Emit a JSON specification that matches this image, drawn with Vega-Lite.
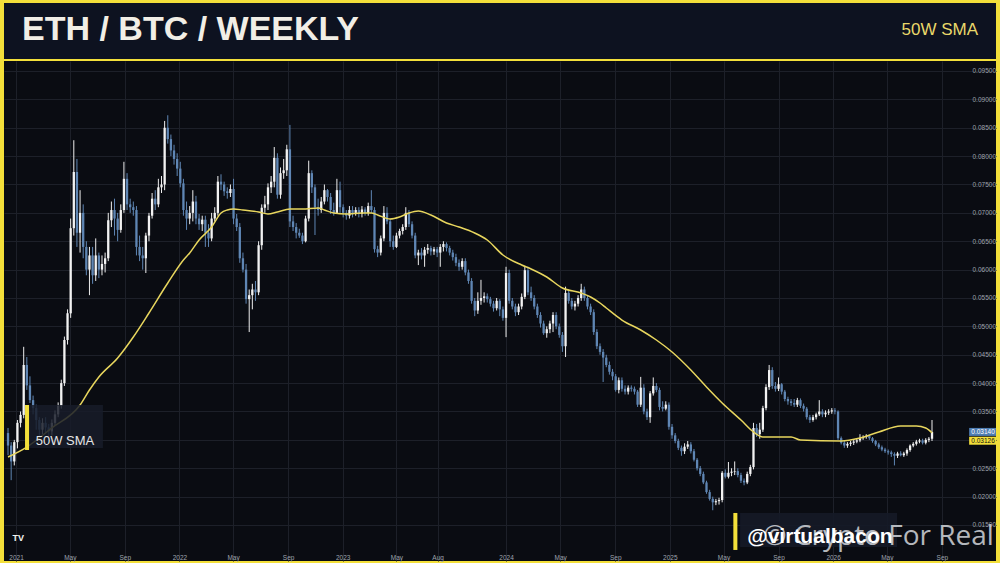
{
  "$schema": "https://vega.github.io/schema/vega-lite/v6.json",
  "description": "ETH/BTC weekly candles with a 50 week SMA",
  "background": "#f3df3a",
  "padding": {"left": 4, "top": 3, "right": 4, "bottom": 2},
  "spacing": 2,
  "bounds": "flush",
  "config": {"view": {"stroke": null}},
  "datasets": {
    "candles": [
      {"d":"2020-12-14","o":0.0312,"h":0.0321,"l":0.0273,"c":0.029},
      {"d":"2020-12-21","o":0.029,"h":0.0296,"l":0.0229,"c":0.0262},
      {"d":"2020-12-28","o":0.0262,"h":0.03,"l":0.0255,"c":0.0296},
      {"d":"2021-01-04","o":0.0296,"h":0.0335,"l":0.0285,"c":0.033},
      {"d":"2021-01-11","o":0.033,"h":0.035,"l":0.0322,"c":0.0344},
      {"d":"2021-01-18","o":0.0344,"h":0.0464,"l":0.0338,"c":0.0432},
      {"d":"2021-01-25","o":0.0432,"h":0.0446,"l":0.0388,"c":0.0396},
      {"d":"2021-02-01","o":0.0396,"h":0.0412,"l":0.0365,"c":0.037},
      {"d":"2021-02-08","o":0.037,"h":0.0378,"l":0.0345,"c":0.0356},
      {"d":"2021-02-15","o":0.0356,"h":0.0362,"l":0.0318,"c":0.0335},
      {"d":"2021-02-22","o":0.0335,"h":0.034,"l":0.0305,"c":0.0318},
      {"d":"2021-03-01","o":0.0318,"h":0.0338,"l":0.031,"c":0.033},
      {"d":"2021-03-08","o":0.033,"h":0.034,"l":0.0312,"c":0.0322},
      {"d":"2021-03-15","o":0.0322,"h":0.0328,"l":0.03,"c":0.0315},
      {"d":"2021-03-22","o":0.0315,"h":0.0336,"l":0.0308,"c":0.033},
      {"d":"2021-03-29","o":0.033,"h":0.0352,"l":0.0325,"c":0.0345},
      {"d":"2021-04-05","o":0.0345,"h":0.0366,"l":0.034,"c":0.036},
      {"d":"2021-04-12","o":0.036,"h":0.0406,"l":0.0355,"c":0.04},
      {"d":"2021-04-19","o":0.04,"h":0.0482,"l":0.0395,"c":0.0476},
      {"d":"2021-04-26","o":0.0476,"h":0.053,"l":0.0468,"c":0.0523},
      {"d":"2021-05-03","o":0.0523,"h":0.069,"l":0.0515,"c":0.0673},
      {"d":"2021-05-10","o":0.0673,"h":0.0828,"l":0.066,"c":0.0772},
      {"d":"2021-05-17","o":0.0772,"h":0.0795,"l":0.064,"c":0.0665},
      {"d":"2021-05-24","o":0.0665,"h":0.074,"l":0.063,"c":0.07},
      {"d":"2021-05-31","o":0.07,"h":0.0715,"l":0.062,"c":0.064},
      {"d":"2021-06-07","o":0.064,"h":0.065,"l":0.059,"c":0.06},
      {"d":"2021-06-14","o":0.06,"h":0.064,"l":0.0555,"c":0.0625},
      {"d":"2021-06-21","o":0.0625,"h":0.064,"l":0.0575,"c":0.059},
      {"d":"2021-06-28","o":0.059,"h":0.0655,"l":0.058,"c":0.0625},
      {"d":"2021-07-05","o":0.0625,"h":0.063,"l":0.0585,"c":0.06},
      {"d":"2021-07-12","o":0.06,"h":0.0625,"l":0.059,"c":0.061},
      {"d":"2021-07-19","o":0.061,"h":0.063,"l":0.0595,"c":0.062},
      {"d":"2021-07-26","o":0.062,"h":0.07,"l":0.0615,"c":0.0687},
      {"d":"2021-08-02","o":0.0687,"h":0.072,"l":0.0675,"c":0.0705},
      {"d":"2021-08-09","o":0.0705,"h":0.0725,"l":0.066,"c":0.069},
      {"d":"2021-08-16","o":0.069,"h":0.07,"l":0.065,"c":0.067},
      {"d":"2021-08-23","o":0.067,"h":0.0715,"l":0.0665,"c":0.0705},
      {"d":"2021-08-30","o":0.0705,"h":0.079,"l":0.07,"c":0.076},
      {"d":"2021-09-06","o":0.076,"h":0.077,"l":0.0705,"c":0.0715},
      {"d":"2021-09-13","o":0.0715,"h":0.0725,"l":0.07,"c":0.071},
      {"d":"2021-09-20","o":0.071,"h":0.072,"l":0.0695,"c":0.0705},
      {"d":"2021-09-27","o":0.0705,"h":0.0712,"l":0.0625,"c":0.064},
      {"d":"2021-10-04","o":0.064,"h":0.066,"l":0.0615,"c":0.0625},
      {"d":"2021-10-11","o":0.0625,"h":0.064,"l":0.06,"c":0.062},
      {"d":"2021-10-18","o":0.062,"h":0.0665,"l":0.0594,"c":0.066},
      {"d":"2021-10-25","o":0.066,"h":0.07,"l":0.065,"c":0.0695},
      {"d":"2021-11-01","o":0.0695,"h":0.0735,"l":0.069,"c":0.0725},
      {"d":"2021-11-08","o":0.0725,"h":0.074,"l":0.0705,"c":0.0715},
      {"d":"2021-11-15","o":0.0715,"h":0.076,"l":0.071,"c":0.0745},
      {"d":"2021-11-22","o":0.0745,"h":0.0765,"l":0.0735,"c":0.075},
      {"d":"2021-11-29","o":0.075,"h":0.0862,"l":0.074,"c":0.085},
      {"d":"2021-12-06","o":0.085,"h":0.0872,"l":0.0822,"c":0.083},
      {"d":"2021-12-13","o":0.083,"h":0.0838,"l":0.08,"c":0.081},
      {"d":"2021-12-20","o":0.081,"h":0.082,"l":0.0785,"c":0.0795},
      {"d":"2021-12-27","o":0.0795,"h":0.0805,"l":0.0765,"c":0.0778},
      {"d":"2022-01-03","o":0.0778,"h":0.079,"l":0.0745,"c":0.0752},
      {"d":"2022-01-10","o":0.0752,"h":0.076,"l":0.0695,"c":0.0705},
      {"d":"2022-01-17","o":0.0705,"h":0.072,"l":0.067,"c":0.069},
      {"d":"2022-01-24","o":0.069,"h":0.0712,"l":0.068,"c":0.07},
      {"d":"2022-01-31","o":0.07,"h":0.074,"l":0.0685,"c":0.072},
      {"d":"2022-02-07","o":0.072,"h":0.073,"l":0.068,"c":0.069},
      {"d":"2022-02-14","o":0.069,"h":0.0698,"l":0.067,"c":0.068},
      {"d":"2022-02-21","o":0.068,"h":0.0695,"l":0.0668,"c":0.0688},
      {"d":"2022-02-28","o":0.0688,"h":0.0695,"l":0.064,"c":0.0665},
      {"d":"2022-03-07","o":0.0665,"h":0.068,"l":0.064,"c":0.0655},
      {"d":"2022-03-14","o":0.0655,"h":0.07,"l":0.065,"c":0.069},
      {"d":"2022-03-21","o":0.069,"h":0.071,"l":0.0685,"c":0.07},
      {"d":"2022-03-28","o":0.07,"h":0.0765,"l":0.0695,"c":0.0755},
      {"d":"2022-04-04","o":0.0755,"h":0.0768,"l":0.074,"c":0.075},
      {"d":"2022-04-11","o":0.075,"h":0.0755,"l":0.073,"c":0.0738},
      {"d":"2022-04-18","o":0.0738,"h":0.0745,"l":0.0725,"c":0.0735},
      {"d":"2022-04-25","o":0.0735,"h":0.075,"l":0.0728,"c":0.0742},
      {"d":"2022-05-02","o":0.0742,"h":0.076,"l":0.068,"c":0.069},
      {"d":"2022-05-09","o":0.069,"h":0.0698,"l":0.0668,"c":0.0675},
      {"d":"2022-05-16","o":0.0675,"h":0.0682,"l":0.0612,"c":0.062},
      {"d":"2022-05-23","o":0.062,"h":0.063,"l":0.0595,"c":0.06},
      {"d":"2022-05-30","o":0.06,"h":0.061,"l":0.054,"c":0.0548},
      {"d":"2022-06-06","o":0.0548,"h":0.0565,"l":0.049,"c":0.0555},
      {"d":"2022-06-13","o":0.0555,"h":0.0575,"l":0.053,"c":0.0565},
      {"d":"2022-06-20","o":0.0565,"h":0.058,"l":0.0545,"c":0.056},
      {"d":"2022-06-27","o":0.056,"h":0.065,"l":0.0555,"c":0.0643},
      {"d":"2022-07-04","o":0.0643,"h":0.0715,"l":0.0635,"c":0.0709},
      {"d":"2022-07-11","o":0.0709,"h":0.073,"l":0.07,"c":0.0715},
      {"d":"2022-07-18","o":0.0715,"h":0.0752,"l":0.0705,"c":0.0745},
      {"d":"2022-07-25","o":0.0745,"h":0.0765,"l":0.0735,"c":0.0755},
      {"d":"2022-08-01","o":0.0755,"h":0.0816,"l":0.0745,"c":0.0797},
      {"d":"2022-08-08","o":0.0797,"h":0.0805,"l":0.0725,"c":0.0732},
      {"d":"2022-08-15","o":0.0732,"h":0.078,"l":0.0725,"c":0.077},
      {"d":"2022-08-22","o":0.077,"h":0.0795,"l":0.076,"c":0.0775},
      {"d":"2022-08-29","o":0.0775,"h":0.082,"l":0.0765,"c":0.0812},
      {"d":"2022-09-05","o":0.0812,"h":0.0855,"l":0.0675,"c":0.0685},
      {"d":"2022-09-12","o":0.0685,"h":0.0695,"l":0.0668,"c":0.0675},
      {"d":"2022-09-19","o":0.0675,"h":0.0682,"l":0.0655,"c":0.0665},
      {"d":"2022-09-26","o":0.0665,"h":0.0672,"l":0.0656,"c":0.066},
      {"d":"2022-10-03","o":0.066,"h":0.0665,"l":0.0645,"c":0.065},
      {"d":"2022-10-10","o":0.065,"h":0.0695,"l":0.0648,"c":0.069},
      {"d":"2022-10-17","o":0.069,"h":0.0792,"l":0.0685,"c":0.077},
      {"d":"2022-10-24","o":0.077,"h":0.0775,"l":0.0735,"c":0.0745},
      {"d":"2022-10-31","o":0.0745,"h":0.075,"l":0.0661,"c":0.071},
      {"d":"2022-11-07","o":0.071,"h":0.0725,"l":0.0695,"c":0.0705},
      {"d":"2022-11-14","o":0.0705,"h":0.0728,"l":0.07,"c":0.072},
      {"d":"2022-11-21","o":0.072,"h":0.075,"l":0.0715,"c":0.074},
      {"d":"2022-11-28","o":0.074,"h":0.0742,"l":0.072,"c":0.0728},
      {"d":"2022-12-05","o":0.0728,"h":0.0735,"l":0.0698,"c":0.0705},
      {"d":"2022-12-12","o":0.0705,"h":0.0718,"l":0.0695,"c":0.07},
      {"d":"2022-12-19","o":0.07,"h":0.076,"l":0.0698,"c":0.074},
      {"d":"2022-12-26","o":0.074,"h":0.0755,"l":0.07,"c":0.071},
      {"d":"2023-01-02","o":0.071,"h":0.0715,"l":0.0692,"c":0.07},
      {"d":"2023-01-09","o":0.07,"h":0.0705,"l":0.0688,"c":0.0695},
      {"d":"2023-01-16","o":0.0695,"h":0.0712,"l":0.069,"c":0.0705},
      {"d":"2023-01-23","o":0.0705,"h":0.0712,"l":0.0692,"c":0.07},
      {"d":"2023-01-30","o":0.07,"h":0.071,"l":0.0695,"c":0.0705},
      {"d":"2023-02-06","o":0.0705,"h":0.071,"l":0.0692,"c":0.0698},
      {"d":"2023-02-13","o":0.0698,"h":0.0712,"l":0.0692,"c":0.0706},
      {"d":"2023-02-20","o":0.0706,"h":0.071,"l":0.0695,"c":0.07},
      {"d":"2023-02-27","o":0.07,"h":0.0718,"l":0.0695,"c":0.0712},
      {"d":"2023-03-06","o":0.0712,"h":0.074,"l":0.07,"c":0.0705},
      {"d":"2023-03-13","o":0.0705,"h":0.071,"l":0.063,"c":0.0636},
      {"d":"2023-03-20","o":0.0636,"h":0.0642,"l":0.0622,"c":0.063},
      {"d":"2023-03-27","o":0.063,"h":0.066,"l":0.0625,"c":0.0655},
      {"d":"2023-04-03","o":0.0655,"h":0.0712,"l":0.065,"c":0.07},
      {"d":"2023-04-10","o":0.07,"h":0.071,"l":0.068,"c":0.0685},
      {"d":"2023-04-17","o":0.0685,"h":0.069,"l":0.064,"c":0.065},
      {"d":"2023-04-24","o":0.065,"h":0.066,"l":0.0635,"c":0.064},
      {"d":"2023-05-01","o":0.064,"h":0.0665,"l":0.0638,"c":0.066},
      {"d":"2023-05-08","o":0.066,"h":0.0672,"l":0.0655,"c":0.0668},
      {"d":"2023-05-15","o":0.0668,"h":0.068,"l":0.0662,"c":0.0675},
      {"d":"2023-05-22","o":0.0675,"h":0.071,"l":0.067,"c":0.07},
      {"d":"2023-05-29","o":0.07,"h":0.0705,"l":0.0675,"c":0.068},
      {"d":"2023-06-05","o":0.068,"h":0.0685,"l":0.0655,"c":0.066},
      {"d":"2023-06-12","o":0.066,"h":0.0665,"l":0.062,"c":0.0625},
      {"d":"2023-06-19","o":0.0625,"h":0.0635,"l":0.0608,"c":0.063},
      {"d":"2023-06-26","o":0.063,"h":0.0638,"l":0.0618,"c":0.0625},
      {"d":"2023-07-03","o":0.0625,"h":0.064,"l":0.0605,"c":0.0635},
      {"d":"2023-07-10","o":0.0635,"h":0.0645,"l":0.0628,"c":0.0638},
      {"d":"2023-07-17","o":0.0638,"h":0.0642,"l":0.0625,"c":0.0632},
      {"d":"2023-07-24","o":0.0632,"h":0.064,"l":0.0626,"c":0.0636},
      {"d":"2023-07-31","o":0.0636,"h":0.064,"l":0.0622,"c":0.063},
      {"d":"2023-08-07","o":0.063,"h":0.0645,"l":0.0605,"c":0.064},
      {"d":"2023-08-14","o":0.064,"h":0.065,"l":0.0632,"c":0.0645},
      {"d":"2023-08-21","o":0.0645,"h":0.0648,"l":0.0632,"c":0.0638},
      {"d":"2023-08-28","o":0.0638,"h":0.0642,"l":0.0625,"c":0.063},
      {"d":"2023-09-04","o":0.063,"h":0.0635,"l":0.0616,"c":0.0622},
      {"d":"2023-09-11","o":0.0622,"h":0.0628,"l":0.0606,"c":0.0612},
      {"d":"2023-09-18","o":0.0612,"h":0.0618,"l":0.0598,"c":0.0605},
      {"d":"2023-09-25","o":0.0605,"h":0.062,"l":0.06,"c":0.0615},
      {"d":"2023-10-02","o":0.0615,"h":0.062,"l":0.059,"c":0.0595},
      {"d":"2023-10-09","o":0.0595,"h":0.06,"l":0.0575,"c":0.058},
      {"d":"2023-10-16","o":0.058,"h":0.0585,"l":0.054,"c":0.0545},
      {"d":"2023-10-23","o":0.0545,"h":0.055,"l":0.0518,"c":0.0528},
      {"d":"2023-10-30","o":0.0528,"h":0.056,"l":0.0522,"c":0.0545},
      {"d":"2023-11-06","o":0.0545,"h":0.0582,"l":0.0538,"c":0.055},
      {"d":"2023-11-13","o":0.055,"h":0.056,"l":0.0542,"c":0.0553},
      {"d":"2023-11-20","o":0.0553,"h":0.0558,"l":0.0542,"c":0.0548},
      {"d":"2023-11-27","o":0.0548,"h":0.0552,"l":0.0535,"c":0.054},
      {"d":"2023-12-04","o":0.054,"h":0.0545,"l":0.0526,"c":0.0532},
      {"d":"2023-12-11","o":0.0532,"h":0.055,"l":0.0528,"c":0.0545},
      {"d":"2023-12-18","o":0.0545,"h":0.0548,"l":0.0518,"c":0.053},
      {"d":"2023-12-25","o":0.053,"h":0.0535,"l":0.051,"c":0.0515},
      {"d":"2024-01-01","o":0.0515,"h":0.0605,"l":0.0481,"c":0.0594},
      {"d":"2024-01-08","o":0.0594,"h":0.06,"l":0.054,"c":0.0545},
      {"d":"2024-01-15","o":0.0545,"h":0.055,"l":0.053,"c":0.0535},
      {"d":"2024-01-22","o":0.0535,"h":0.054,"l":0.0518,"c":0.0525},
      {"d":"2024-01-29","o":0.0525,"h":0.054,"l":0.052,"c":0.0535},
      {"d":"2024-02-05","o":0.0535,"h":0.0558,"l":0.053,"c":0.0552},
      {"d":"2024-02-12","o":0.0552,"h":0.0605,"l":0.0548,"c":0.0599},
      {"d":"2024-02-19","o":0.0599,"h":0.0605,"l":0.0555,"c":0.056},
      {"d":"2024-02-26","o":0.056,"h":0.057,"l":0.0545,"c":0.055},
      {"d":"2024-03-04","o":0.055,"h":0.0555,"l":0.053,"c":0.0535},
      {"d":"2024-03-11","o":0.0535,"h":0.054,"l":0.0515,"c":0.052},
      {"d":"2024-03-18","o":0.052,"h":0.0525,"l":0.0498,"c":0.0505},
      {"d":"2024-03-25","o":0.0505,"h":0.051,"l":0.0485,"c":0.0488},
      {"d":"2024-04-01","o":0.0488,"h":0.05,"l":0.048,"c":0.0495},
      {"d":"2024-04-08","o":0.0495,"h":0.051,"l":0.0488,"c":0.0505},
      {"d":"2024-04-15","o":0.0505,"h":0.0525,"l":0.049,"c":0.052},
      {"d":"2024-04-22","o":0.052,"h":0.0525,"l":0.0495,"c":0.05},
      {"d":"2024-04-29","o":0.05,"h":0.0505,"l":0.048,"c":0.0485},
      {"d":"2024-05-06","o":0.0485,"h":0.049,"l":0.0455,"c":0.0465},
      {"d":"2024-05-13","o":0.0465,"h":0.057,"l":0.0446,"c":0.0559},
      {"d":"2024-05-20","o":0.0559,"h":0.0565,"l":0.054,"c":0.0545},
      {"d":"2024-05-27","o":0.0545,"h":0.055,"l":0.053,"c":0.0535},
      {"d":"2024-06-03","o":0.0535,"h":0.0545,"l":0.0528,"c":0.054},
      {"d":"2024-06-10","o":0.054,"h":0.0555,"l":0.0535,"c":0.055},
      {"d":"2024-06-17","o":0.055,"h":0.0575,"l":0.0545,"c":0.0565},
      {"d":"2024-06-24","o":0.0565,"h":0.057,"l":0.0545,"c":0.055},
      {"d":"2024-07-01","o":0.055,"h":0.0555,"l":0.053,"c":0.0535},
      {"d":"2024-07-08","o":0.0535,"h":0.054,"l":0.052,"c":0.0525},
      {"d":"2024-07-15","o":0.0525,"h":0.053,"l":0.0485,"c":0.049},
      {"d":"2024-07-22","o":0.049,"h":0.0495,"l":0.046,"c":0.0465},
      {"d":"2024-07-29","o":0.0465,"h":0.047,"l":0.045,"c":0.0455},
      {"d":"2024-08-05","o":0.0455,"h":0.046,"l":0.0402,"c":0.0445},
      {"d":"2024-08-12","o":0.0445,"h":0.045,"l":0.0428,"c":0.0432},
      {"d":"2024-08-19","o":0.0432,"h":0.0438,"l":0.0415,"c":0.042},
      {"d":"2024-08-26","o":0.042,"h":0.0425,"l":0.0405,"c":0.0412},
      {"d":"2024-09-02","o":0.0412,"h":0.0416,"l":0.0385,"c":0.0388},
      {"d":"2024-09-09","o":0.0388,"h":0.041,"l":0.0382,"c":0.0405},
      {"d":"2024-09-16","o":0.0405,"h":0.041,"l":0.0385,"c":0.039},
      {"d":"2024-09-23","o":0.039,"h":0.0396,"l":0.038,"c":0.0385},
      {"d":"2024-09-30","o":0.0385,"h":0.0396,"l":0.038,"c":0.0392},
      {"d":"2024-10-07","o":0.0392,"h":0.0396,"l":0.0385,"c":0.039},
      {"d":"2024-10-14","o":0.039,"h":0.0394,"l":0.038,"c":0.0385},
      {"d":"2024-10-21","o":0.0385,"h":0.0388,"l":0.0358,"c":0.0362},
      {"d":"2024-10-28","o":0.0362,"h":0.0411,"l":0.0358,"c":0.0392},
      {"d":"2024-11-04","o":0.0392,"h":0.0398,"l":0.0345,"c":0.035},
      {"d":"2024-11-11","o":0.035,"h":0.0355,"l":0.0335,"c":0.034},
      {"d":"2024-11-18","o":0.034,"h":0.0386,"l":0.033,"c":0.0382},
      {"d":"2024-11-25","o":0.0382,"h":0.041,"l":0.0378,"c":0.0395},
      {"d":"2024-12-02","o":0.0395,"h":0.04,"l":0.0384,"c":0.0388},
      {"d":"2024-12-09","o":0.0388,"h":0.0392,"l":0.0352,"c":0.0358},
      {"d":"2024-12-16","o":0.0358,"h":0.0368,"l":0.035,"c":0.0355},
      {"d":"2024-12-23","o":0.0355,"h":0.0368,"l":0.0352,"c":0.0362},
      {"d":"2024-12-30","o":0.0362,"h":0.0366,"l":0.0318,"c":0.0323},
      {"d":"2025-01-06","o":0.0323,"h":0.0328,"l":0.0302,"c":0.0308},
      {"d":"2025-01-13","o":0.0308,"h":0.0312,"l":0.0294,"c":0.0298},
      {"d":"2025-01-20","o":0.0298,"h":0.0302,"l":0.0282,"c":0.0286},
      {"d":"2025-01-27","o":0.0286,"h":0.029,"l":0.0272,"c":0.028},
      {"d":"2025-02-03","o":0.028,"h":0.0294,"l":0.0275,"c":0.0288},
      {"d":"2025-02-10","o":0.0288,"h":0.0298,"l":0.0284,"c":0.0292},
      {"d":"2025-02-17","o":0.0292,"h":0.0296,"l":0.0276,"c":0.028},
      {"d":"2025-02-24","o":0.028,"h":0.0284,"l":0.0262,"c":0.0265},
      {"d":"2025-03-03","o":0.0265,"h":0.0268,"l":0.0246,"c":0.025},
      {"d":"2025-03-10","o":0.025,"h":0.0254,"l":0.0236,"c":0.024},
      {"d":"2025-03-17","o":0.024,"h":0.0244,"l":0.0222,"c":0.0225},
      {"d":"2025-03-24","o":0.0225,"h":0.0228,"l":0.0205,"c":0.0208},
      {"d":"2025-03-31","o":0.0208,"h":0.0212,"l":0.0193,"c":0.0196},
      {"d":"2025-04-07","o":0.0196,"h":0.02,"l":0.0176,"c":0.019},
      {"d":"2025-04-14","o":0.019,"h":0.0196,"l":0.0185,"c":0.0192},
      {"d":"2025-04-21","o":0.0192,"h":0.0198,"l":0.0186,"c":0.0194},
      {"d":"2025-04-28","o":0.0194,"h":0.0245,"l":0.019,"c":0.0242},
      {"d":"2025-05-05","o":0.0242,"h":0.0248,"l":0.0232,"c":0.0235},
      {"d":"2025-05-12","o":0.0235,"h":0.0261,"l":0.0232,"c":0.0242},
      {"d":"2025-05-19","o":0.0242,"h":0.025,"l":0.0236,"c":0.0244},
      {"d":"2025-05-26","o":0.0244,"h":0.0262,"l":0.0238,"c":0.0245},
      {"d":"2025-06-02","o":0.0245,"h":0.025,"l":0.0234,"c":0.0238},
      {"d":"2025-06-09","o":0.0238,"h":0.0242,"l":0.0224,"c":0.0228},
      {"d":"2025-06-16","o":0.0228,"h":0.0232,"l":0.022,"c":0.0225},
      {"d":"2025-06-23","o":0.0225,"h":0.0244,"l":0.0222,"c":0.024},
      {"d":"2025-06-30","o":0.024,"h":0.0256,"l":0.0236,"c":0.0252},
      {"d":"2025-07-07","o":0.0252,"h":0.033,"l":0.0248,"c":0.0321},
      {"d":"2025-07-14","o":0.0321,"h":0.0328,"l":0.0305,"c":0.031},
      {"d":"2025-07-21","o":0.031,"h":0.033,"l":0.0302,"c":0.0318},
      {"d":"2025-07-28","o":0.0318,"h":0.036,"l":0.0314,"c":0.0356},
      {"d":"2025-08-04","o":0.0356,"h":0.0398,"l":0.0352,"c":0.0393},
      {"d":"2025-08-11","o":0.0393,"h":0.0432,"l":0.0388,"c":0.0423},
      {"d":"2025-08-18","o":0.0423,"h":0.0428,"l":0.039,"c":0.0395},
      {"d":"2025-08-25","o":0.0395,"h":0.0402,"l":0.0385,"c":0.039},
      {"d":"2025-09-01","o":0.039,"h":0.041,"l":0.0386,"c":0.0398},
      {"d":"2025-09-08","o":0.0398,"h":0.04,"l":0.038,"c":0.0385},
      {"d":"2025-09-15","o":0.0385,"h":0.0388,"l":0.0368,"c":0.0372},
      {"d":"2025-09-22","o":0.0372,"h":0.0376,"l":0.0362,"c":0.0368},
      {"d":"2025-09-29","o":0.0368,"h":0.0372,"l":0.036,"c":0.0365},
      {"d":"2025-10-06","o":0.0365,"h":0.0372,"l":0.0358,"c":0.0362},
      {"d":"2025-10-13","o":0.0362,"h":0.0374,"l":0.0358,"c":0.037},
      {"d":"2025-10-20","o":0.037,"h":0.0373,"l":0.0356,"c":0.036},
      {"d":"2025-10-27","o":0.036,"h":0.0364,"l":0.035,"c":0.0355},
      {"d":"2025-11-03","o":0.0355,"h":0.0358,"l":0.0336,"c":0.034},
      {"d":"2025-11-10","o":0.034,"h":0.0344,"l":0.033,"c":0.0335},
      {"d":"2025-11-17","o":0.0335,"h":0.0344,"l":0.0332,"c":0.034},
      {"d":"2025-11-24","o":0.034,"h":0.0348,"l":0.0336,"c":0.0345},
      {"d":"2025-12-01","o":0.0345,"h":0.037,"l":0.0342,"c":0.035},
      {"d":"2025-12-08","o":0.035,"h":0.0354,"l":0.034,"c":0.0345},
      {"d":"2025-12-15","o":0.0345,"h":0.0352,"l":0.034,"c":0.0348},
      {"d":"2025-12-22","o":0.0348,"h":0.0354,"l":0.0344,"c":0.035},
      {"d":"2025-12-29","o":0.035,"h":0.0356,"l":0.0346,"c":0.0352},
      {"d":"2026-01-05","o":0.0352,"h":0.0356,"l":0.0345,"c":0.035},
      {"d":"2026-01-12","o":0.035,"h":0.0352,"l":0.03,"c":0.0303},
      {"d":"2026-01-19","o":0.0303,"h":0.0306,"l":0.0292,"c":0.0295},
      {"d":"2026-01-26","o":0.0295,"h":0.0298,"l":0.0286,"c":0.029},
      {"d":"2026-02-02","o":0.029,"h":0.0296,"l":0.0286,"c":0.0293},
      {"d":"2026-02-09","o":0.0293,"h":0.0298,"l":0.0289,"c":0.0295},
      {"d":"2026-02-16","o":0.0295,"h":0.03,"l":0.0291,"c":0.0297},
      {"d":"2026-02-23","o":0.0297,"h":0.0302,"l":0.0294,"c":0.0299},
      {"d":"2026-03-02","o":0.0299,"h":0.031,"l":0.0296,"c":0.0303},
      {"d":"2026-03-09","o":0.0303,"h":0.0308,"l":0.03,"c":0.0305},
      {"d":"2026-03-16","o":0.0305,"h":0.031,"l":0.0302,"c":0.0307},
      {"d":"2026-03-23","o":0.0307,"h":0.0309,"l":0.03,"c":0.0303},
      {"d":"2026-03-30","o":0.0303,"h":0.0305,"l":0.0295,"c":0.0298},
      {"d":"2026-04-06","o":0.0298,"h":0.03,"l":0.0289,"c":0.0292},
      {"d":"2026-04-13","o":0.0292,"h":0.0295,"l":0.0284,"c":0.0287},
      {"d":"2026-04-20","o":0.0287,"h":0.029,"l":0.028,"c":0.0283},
      {"d":"2026-04-27","o":0.0283,"h":0.0286,"l":0.0277,"c":0.028},
      {"d":"2026-05-04","o":0.028,"h":0.0283,"l":0.0274,"c":0.0278},
      {"d":"2026-05-11","o":0.0278,"h":0.0281,"l":0.027,"c":0.0275},
      {"d":"2026-05-18","o":0.0275,"h":0.0278,"l":0.0255,"c":0.0272},
      {"d":"2026-05-25","o":0.0272,"h":0.0279,"l":0.0268,"c":0.0276},
      {"d":"2026-06-01","o":0.0276,"h":0.028,"l":0.0271,"c":0.0273},
      {"d":"2026-06-08","o":0.0273,"h":0.0279,"l":0.027,"c":0.0276},
      {"d":"2026-06-15","o":0.0276,"h":0.0285,"l":0.0272,"c":0.0282},
      {"d":"2026-06-22","o":0.0282,"h":0.0292,"l":0.0279,"c":0.029},
      {"d":"2026-06-29","o":0.029,"h":0.0296,"l":0.0287,"c":0.0293},
      {"d":"2026-07-06","o":0.0293,"h":0.03,"l":0.029,"c":0.0297},
      {"d":"2026-07-13","o":0.0297,"h":0.0302,"l":0.0294,"c":0.0299},
      {"d":"2026-07-20","o":0.0299,"h":0.0302,"l":0.0292,"c":0.0295},
      {"d":"2026-07-27","o":0.0295,"h":0.0303,"l":0.0292,"c":0.03},
      {"d":"2026-08-03","o":0.03,"h":0.0305,"l":0.0296,"c":0.0302},
      {"d":"2026-08-10","o":0.0302,"h":0.0335,"l":0.0298,"c":0.0314}
    ],
    "sma": [
      {"d":"2020-12-14","s":0.02698},
      {"d":"2021-01-25","s":0.02874},
      {"d":"2021-03-22","s":0.0321},
      {"d":"2021-05-24","s":0.03615},
      {"d":"2021-06-14","s":0.03879},
      {"d":"2021-07-05","s":0.04108},
      {"d":"2021-08-16","s":0.04443},
      {"d":"2021-09-20","s":0.04813},
      {"d":"2021-10-25","s":0.05236},
      {"d":"2021-12-06","s":0.05764},
      {"d":"2022-01-10","s":0.0617},
      {"d":"2022-01-24","s":0.06293},
      {"d":"2022-02-14","s":0.06522},
      {"d":"2022-03-14","s":0.06751},
      {"d":"2022-04-04","s":0.06998},
      {"d":"2022-04-18","s":0.07051},
      {"d":"2022-05-02","s":0.07068},
      {"d":"2022-05-23","s":0.07051},
      {"d":"2022-06-27","s":0.07015},
      {"d":"2022-07-18","s":0.0698},
      {"d":"2022-08-08","s":0.07015},
      {"d":"2022-09-05","s":0.07068},
      {"d":"2022-10-03","s":0.07068},
      {"d":"2022-11-07","s":0.07086},
      {"d":"2022-11-21","s":0.07051},
      {"d":"2022-12-12","s":0.06998},
      {"d":"2023-01-09","s":0.0698},
      {"d":"2023-02-13","s":0.06998},
      {"d":"2023-03-06","s":0.06998},
      {"d":"2023-03-20","s":0.06963},
      {"d":"2023-04-17","s":0.06892},
      {"d":"2023-05-08","s":0.06927},
      {"d":"2023-05-29","s":0.06998},
      {"d":"2023-06-19","s":0.07033},
      {"d":"2023-07-17","s":0.06963},
      {"d":"2023-08-21","s":0.06822},
      {"d":"2023-09-18","s":0.06751},
      {"d":"2023-10-23","s":0.06645},
      {"d":"2023-11-20","s":0.06522},
      {"d":"2023-12-25","s":0.06258},
      {"d":"2024-02-05","s":0.06081},
      {"d":"2024-02-26","s":0.06011},
      {"d":"2024-04-01","s":0.0587},
      {"d":"2024-05-06","s":0.05676},
      {"d":"2024-06-17","s":0.05588},
      {"d":"2024-07-08","s":0.05518},
      {"d":"2024-07-29","s":0.05412},
      {"d":"2024-08-12","s":0.05324},
      {"d":"2024-09-16","s":0.05112},
      {"d":"2024-10-28","s":0.04936},
      {"d":"2024-12-02","s":0.0476},
      {"d":"2025-01-06","s":0.04548},
      {"d":"2025-02-17","s":0.04231},
      {"d":"2025-03-24","s":0.03932},
      {"d":"2025-04-28","s":0.0365},
      {"d":"2025-06-09","s":0.0335},
      {"d":"2025-07-07","s":0.03139},
      {"d":"2025-07-28","s":0.03051},
      {"d":"2025-09-29","s":0.03051},
      {"d":"2025-10-20","s":0.02998},
      {"d":"2026-01-19","s":0.0298},
      {"d":"2026-03-02","s":0.03033},
      {"d":"2026-04-13","s":0.03139},
      {"d":"2026-06-01","s":0.03245},
      {"d":"2026-07-06","s":0.03245},
      {"d":"2026-07-27","s":0.0321},
      {"d":"2026-08-10","s":0.03126}
    ]
  },
  "vconcat": [
    {
      "width": 992,
      "height": 56,
      "view": {"fill": "#0d1220", "stroke": null},
      "title": {
        "text": "ETH / BTC / WEEKLY",
        "anchor": "start",
        "frame": "group",
        "orient": "top",
        "offset": -71,
        "dx": 18,
        "baseline": "alphabetic",
        "font": "Liberation Sans",
        "fontSize": 34,
        "fontWeight": "bold",
        "color": "#f1eee6"
      },
      "data": {"values": [{"t": ""}]},
      "mark": {"type": "text"},
      "encoding": {"text": {"field": "t"}}
    },
    {
      "width": 992,
      "height": 500,
      "view": {"fill": "#0a0c12", "stroke": null},
      "title": {
        "text": "50W SMA",
        "anchor": "end",
        "frame": "group",
        "orient": "top",
        "offset": 9,
        "dx": -18,
        "baseline": "alphabetic",
        "font": "Liberation Sans",
        "fontSize": 17,
        "fontWeight": "normal",
        "color": "#e9d86a"
      },
      "encoding": {
        "x": {
          "type": "temporal",
          "title": null,
          "scale": {
            "type": "utc",
            "padding": 0,
            "domain": [
              {"year": 2020, "month": 12, "date": 5, "utc": true},
              {"year": 2026, "month": 12, "date": 31, "utc": true}
            ]
          },
          "axis": {
            "orient": "bottom",
            "offset": -4,
            "values": [
              {"year": 2021, "month": 1, "date": 1, "utc": true},
              {"year": 2021, "month": 5, "date": 1, "utc": true},
              {"year": 2021, "month": 9, "date": 1, "utc": true},
              {"year": 2022, "month": 1, "date": 1, "utc": true},
              {"year": 2022, "month": 5, "date": 1, "utc": true},
              {"year": 2022, "month": 9, "date": 1, "utc": true},
              {"year": 2023, "month": 1, "date": 1, "utc": true},
              {"year": 2023, "month": 5, "date": 1, "utc": true},
              {"year": 2023, "month": 8, "date": 1, "utc": true},
              {"year": 2024, "month": 1, "date": 1, "utc": true},
              {"year": 2024, "month": 5, "date": 1, "utc": true},
              {"year": 2024, "month": 9, "date": 1, "utc": true},
              {"year": 2025, "month": 1, "date": 1, "utc": true},
              {"year": 2025, "month": 5, "date": 1, "utc": true},
              {"year": 2025, "month": 9, "date": 1, "utc": true},
              {"year": 2026, "month": 1, "date": 1, "utc": true},
              {"year": 2026, "month": 5, "date": 1, "utc": true},
              {"year": 2026, "month": 9, "date": 1, "utc": true}
            ],
            "labelExpr": "utcFormat(datum.value, '%m') == '01' ? utcFormat(datum.value, '%Y') : utcFormat(datum.value, '%b')",
            "domain": false,
            "ticks": false,
            "tickSize": 0,
            "labelPadding": 0,
            "labelBaseline": "middle",
            "labelFont": "Liberation Sans",
            "labelFontSize": 6.5,
            "labelColor": "#9ea3ad",
            "labelFlush": false,
            "labelOverlap": false,
            "grid": true,
            "gridColor": "#1d2029",
            "gridWidth": 1
          }
        },
        "y": {
          "type": "quantitative",
          "scale": {"domain": [0.008656, 0.096762], "nice": false, "zero": false},
          "axis": {
            "orient": "right",
            "offset": -27,
            "title": null,
            "values": [0.015, 0.02, 0.025, 0.03, 0.035, 0.04, 0.045, 0.05, 0.055, 0.06, 0.065, 0.07, 0.075, 0.08, 0.085, 0.09, 0.095],
            "format": ".5f",
            "domain": false,
            "ticks": false,
            "tickSize": 0,
            "labelPadding": 3,
            "labelAlign": "left",
            "labelBaseline": "middle",
            "labelFont": "Liberation Sans",
            "labelFontSize": 6.5,
            "labelColor": "#9ea3ad",
            "labelFlush": false,
            "labelOverlap": false,
            "grid": true,
            "gridColor": "#1d2029",
            "gridWidth": 1
          }
        }
      },
      "layer": [
        {
          "data": {"name": "candles"},
          "mark": {"type": "rule", "strokeWidth": 1},
          "encoding": {
            "x": {"field": "d"},
            "y": {"field": "l"},
            "y2": {"field": "h"},
            "color": {"condition": {"test": "datum.c >= datum.o", "value": "#eeeeee"}, "value": "#5f86b4"}
          }
        },
        {
          "data": {"name": "candles"},
          "mark": {"type": "bar", "width": 2.3},
          "encoding": {
            "x": {"field": "d"},
            "y": {"field": "o"},
            "y2": {"field": "c"},
            "color": {"condition": {"test": "datum.c >= datum.o", "value": "#f2f2f2"}, "value": "#5f86b4"}
          }
        },
        {
          "data": {"name": "sma"},
          "mark": {"type": "line", "color": "#e8d65e", "strokeWidth": 1.5, "interpolate": "monotone"},
          "encoding": {
            "x": {"field": "d"},
            "y": {"field": "s"}
          }
        },
        {
          "data": {"values": [{}]},
          "mark": {"type": "rect", "color": "#171c29", "opacity": 0.85},
          "encoding": {
            "x": {"datum": {"year": 2021, "month": 1, "date": 30, "utc": true}},
            "x2": {"datum": {"year": 2021, "month": 7, "date": 14, "utc": true}},
            "y": {"datum": 0.03615},
            "y2": {"datum": 0.02857}
          }
        },
        {
          "data": {"values": [{}]},
          "mark": {"type": "rect", "color": "#f3df3a"},
          "encoding": {
            "x": {"datum": {"year": 2021, "month": 1, "date": 21, "utc": true}},
            "x2": {"datum": {"year": 2021, "month": 1, "date": 30, "utc": true}},
            "y": {"datum": 0.03615},
            "y2": {"datum": 0.02822}
          }
        },
        {
          "data": {"values": [{"t": "50W SMA"}]},
          "mark": {"type": "text", "align": "left", "baseline": "alphabetic", "font": "Liberation Sans", "fontSize": 13, "color": "#e6e6e6"},
          "encoding": {
            "x": {"datum": {"year": 2021, "month": 2, "date": 14, "utc": true}},
            "y": {"datum": 0.0291},
            "text": {"field": "t"}
          }
        },
        {
          "data": {"values": [{}]},
          "mark": {"type": "rect", "color": "#151a27", "opacity": 0.9},
          "encoding": {
            "x": {"datum": {"year": 2025, "month": 6, "date": 7, "utc": true}},
            "x2": {"datum": {"year": 2026, "month": 5, "date": 24, "utc": true}},
            "y": {"datum": 0.01712},
            "y2": {"datum": 0.01113}
          }
        },
        {
          "data": {"values": [{}]},
          "mark": {"type": "rect", "color": "#f3df3a"},
          "encoding": {
            "x": {"datum": {"year": 2025, "month": 5, "date": 23, "utc": true}},
            "x2": {"datum": {"year": 2025, "month": 6, "date": 1, "utc": true}},
            "y": {"datum": 0.01712},
            "y2": {"datum": 0.0106}
          }
        },
        {
          "data": {"values": [{"t": "© Crypto For Real"}]},
          "mark": {"type": "text", "align": "left", "baseline": "alphabetic", "font": "Open Sans", "fontSize": 28, "color": "#d2d5da", "opacity": 0.85},
          "encoding": {
            "x": {"datum": {"year": 2025, "month": 7, "date": 29, "utc": true}},
            "y": {"datum": 0.01148},
            "text": {"field": "t"}
          }
        },
        {
          "data": {"values": [{"t": "@virtualbacon"}]},
          "mark": {"type": "text", "align": "left", "baseline": "alphabetic", "font": "Liberation Sans", "fontSize": 21, "fontWeight": "bold", "color": "#ffffff"},
          "encoding": {
            "x": {"datum": {"year": 2025, "month": 6, "date": 23, "utc": true}},
            "y": {"datum": 0.01183},
            "text": {"field": "t"}
          }
        },
        {
          "data": {"values": [{"t": "TV"}]},
          "mark": {"type": "text", "align": "left", "baseline": "middle", "font": "Liberation Sans", "fontSize": 9, "fontWeight": "bold", "color": "#f2f2f2"},
          "encoding": {
            "x": {"datum": {"year": 2020, "month": 12, "date": 24, "utc": true}},
            "y": {"datum": 0.0127},
            "text": {"field": "t"}
          }
        },
        {
          "data": {"values": [{"v": 0.0314, "t": "0.03140"}]},
          "mark": {"type": "rule", "color": "#4f7db3", "strokeWidth": 8, "strokeCap": "butt"},
          "encoding": {
            "x": {"datum": {"year": 2026, "month": 11, "date": 1, "utc": true}},
            "x2": {"datum": {"year": 2026, "month": 12, "date": 31, "utc": true}},
            "y": {"field": "v"}
          }
        },
        {
          "data": {"values": [{"v": 0.0314, "t": "0.03140"}]},
          "mark": {"type": "text", "align": "center", "baseline": "middle", "font": "Liberation Sans", "fontSize": 6.5, "color": "#ffffff"},
          "encoding": {
            "x": {"datum": {"year": 2026, "month": 12, "date": 2, "utc": true}},
            "y": {"field": "v"},
            "text": {"field": "t"}
          }
        },
        {
          "data": {"values": [{"v": 0.03126, "t": "0.03126"}]},
          "mark": {"type": "rule", "color": "#f3df3a", "strokeWidth": 8, "strokeCap": "butt", "yOffset": 8},
          "encoding": {
            "x": {"datum": {"year": 2026, "month": 11, "date": 1, "utc": true}},
            "x2": {"datum": {"year": 2026, "month": 12, "date": 31, "utc": true}},
            "y": {"field": "v"}
          }
        },
        {
          "data": {"values": [{"v": 0.03126, "t": "0.03126"}]},
          "mark": {"type": "text", "align": "center", "baseline": "middle", "font": "Liberation Sans", "fontSize": 6.5, "color": "#111111", "yOffset": 8},
          "encoding": {
            "x": {"datum": {"year": 2026, "month": 12, "date": 2, "utc": true}},
            "y": {"field": "v"},
            "text": {"field": "t"}
          }
        }
      ]
    }
  ]
}
